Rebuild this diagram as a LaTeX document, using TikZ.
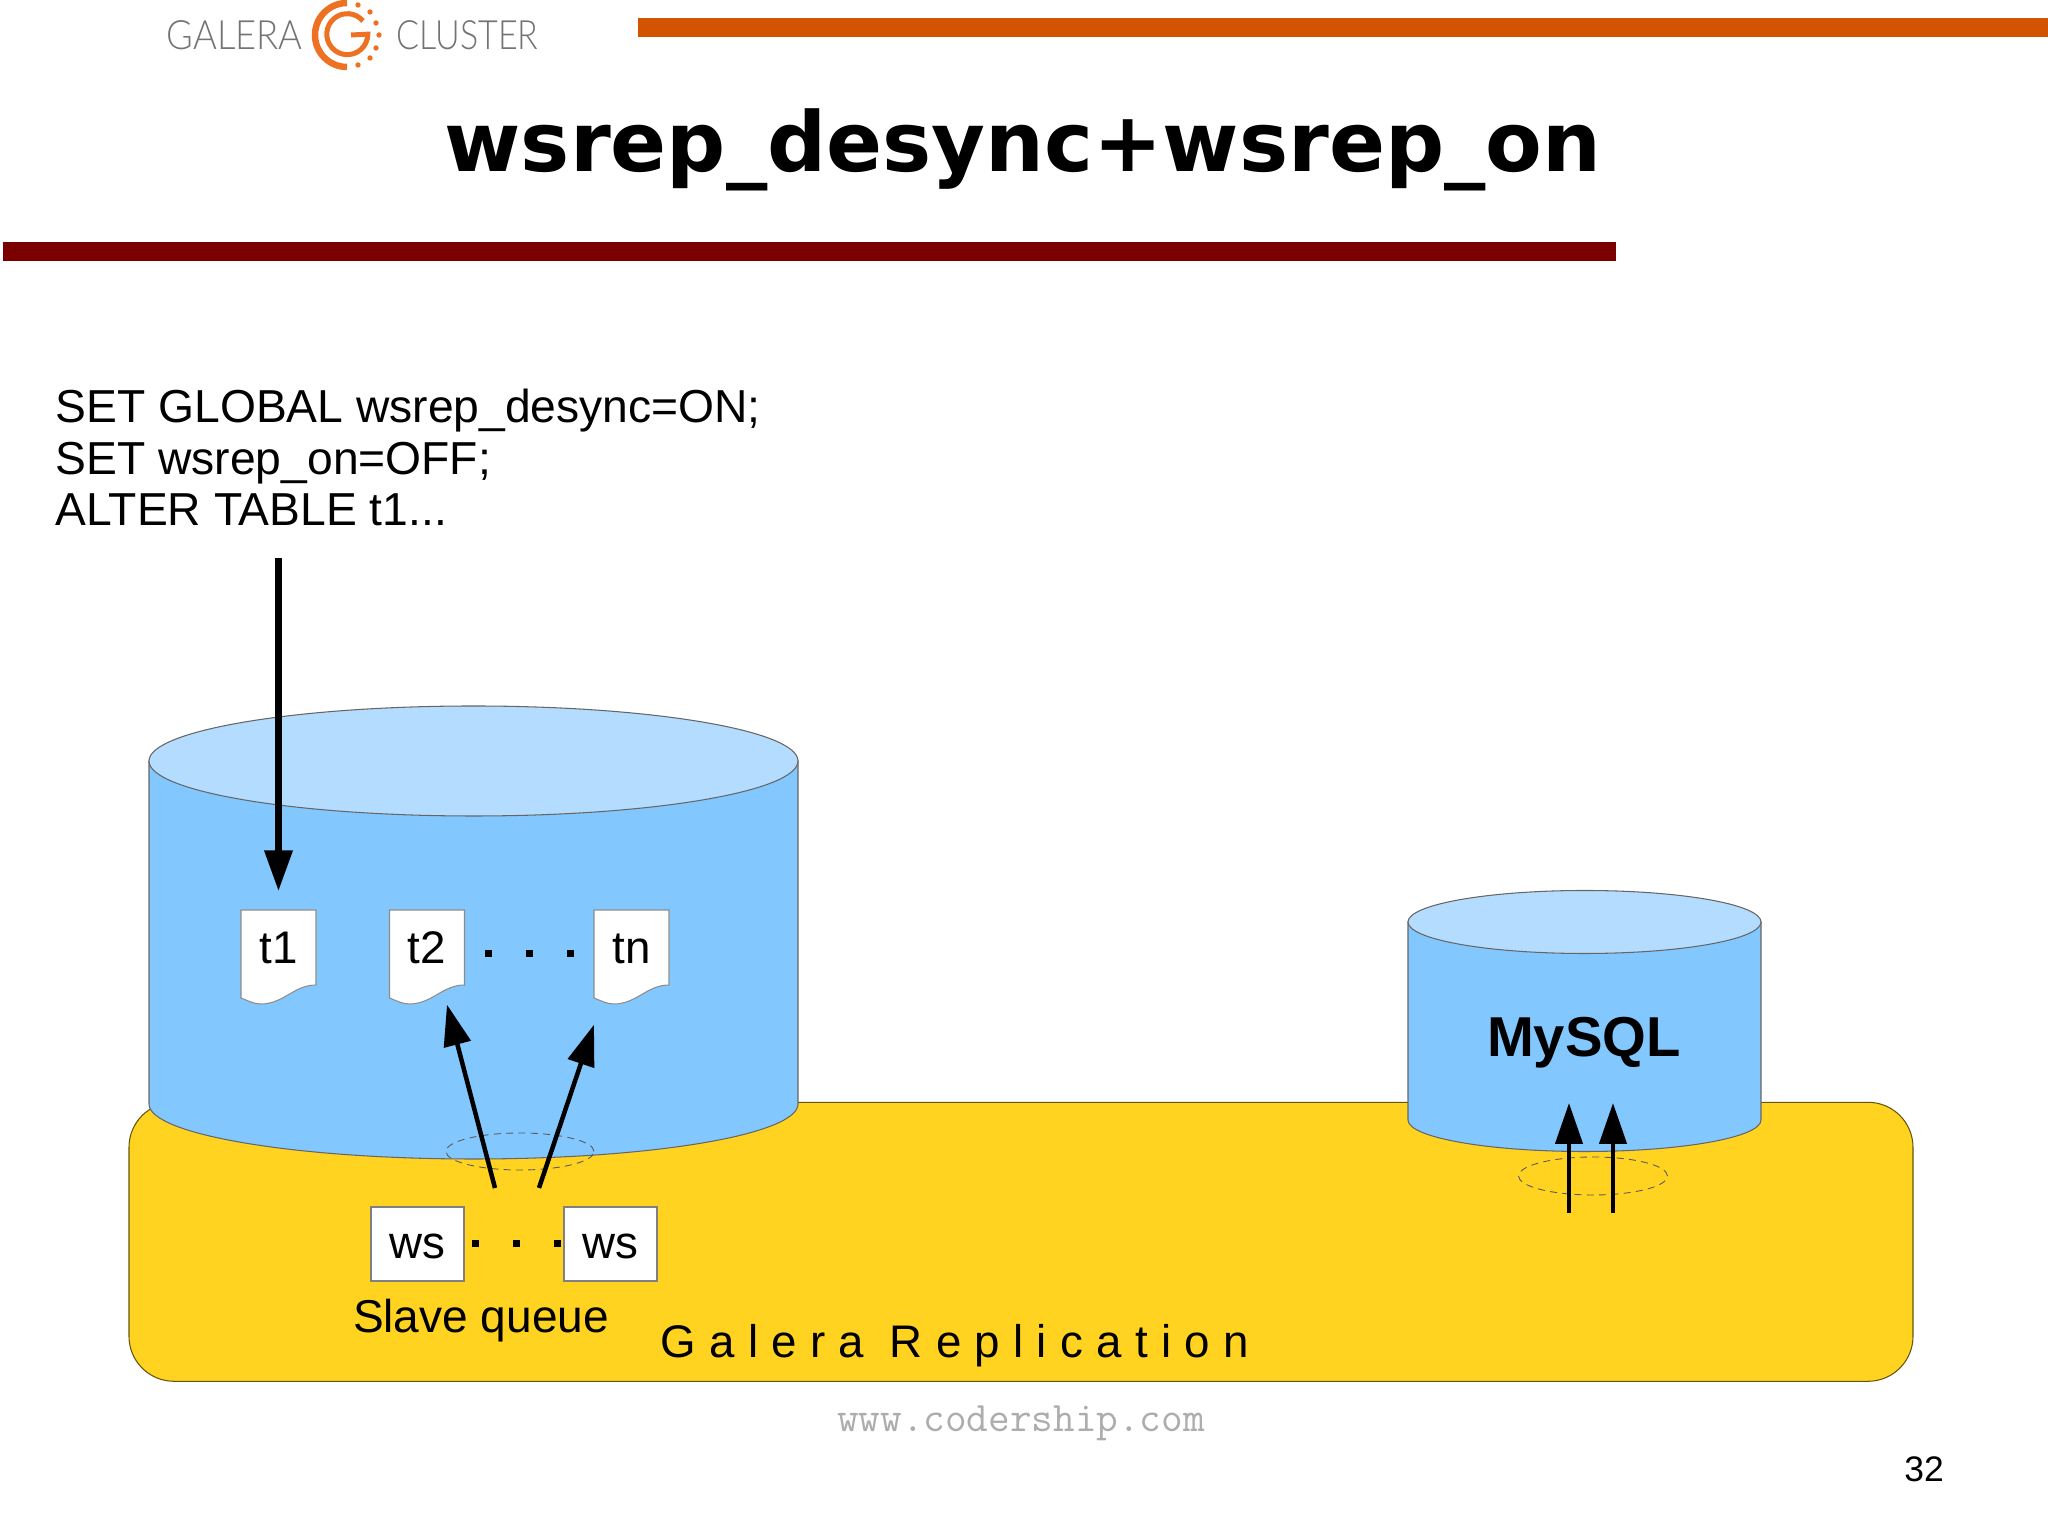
\documentclass[tikz,border=0pt]{standalone}
\usepackage{fontspec}
\setmainfont{Liberation Sans}
\setmonofont{Latin Modern Mono}
\newfontfamily\headfont{DejaVu Sans}
\newfontfamily\logofont[UprightFont=* Light]{Lato}
\usetikzlibrary{arrows.meta,shapes.geometric}

\definecolor{bandyellow}{HTML}{FFD320}
\definecolor{canbody}{HTML}{83C7FF}
\definecolor{cantop}{HTML}{B4DCFF}
\definecolor{barorange}{HTML}{D35400}
\definecolor{bardark}{HTML}{7B0000}
\definecolor{logoorange}{HTML}{EE7023}

% page with a wavy lower edge: name, base point, text
\newcommand{\tablepage}[3]{%
  \draw[pageline] (#2) ++(-.375,.54) -- ++(.75,0) -- ++(0,-.75)
    .. controls +(-.22,0) and +(.225,0) .. ++(-.55,-.19)
    .. controls +(-.07,0) and +(.075,-.03) .. ++(-.20,.06) -- cycle;
  \node at (#2) [pagetext] (#1) {#3};
}
% drum: centre x, top y, bottom y, x radius, y radius
\newcommand{\dbdrum}[5]{%
  \path[drumline,fill=canbody] (#1-#4,#2) -- (#1-#4,#3)
    arc[start angle=180,end angle=360,x radius=#4,y radius=#5] -- (#1+#4,#2) -- cycle;
  \path[drumline,fill=cantop] (#1,#2) ellipse[x radius=#4,y radius=#5];
}

\begin{document}
\begin{tikzpicture}[
    body/.style = {font=\fontsize{13}{15}\selectfont},
    pagetext/.style = {body,anchor=base,inner sep=0pt,minimum width=.75cm,text height=.54cm,text depth=.40cm},
    pageline/.style = {draw=black!45,line width=.3pt,fill=white},
    drumline/.style = {draw=black!60,line width=.3pt},
    wsbox/.style = {body,draw=black!50,line width=.3pt,fill=white,inner sep=0pt,minimum width=.93cm,minimum height=.74cm,text height=.29cm,text depth=0pt},
    square/.style = {fill=black,inner sep=0pt,minimum size=.07cm},
    thin arrow/.style = {-{Triangle[length=.41cm,width=.27cm]},line width=.045cm},
    thick arrow/.style = {-{Triangle[length=.41cm,width=.27cm]},line width=.07cm},
    probe/.style = {dashed,line width=.25pt,draw=black!65,dash pattern=on 2pt off 1.5pt}
]
    \useasboundingbox (0,0) rectangle (20.48,15.35);

    % Header
    \fill[barorange] (6.38,15.17) rectangle (20.48,14.98);
    \fill[bardark] (0.03,12.93) rectangle (16.16,12.74);
    \node at (10.23,13.63) [anchor=base,font=\headfont\bfseries\fontsize{23.52}{28}\selectfont] (title) {wsrep\_desync+wsrep\_on};

    % Logo
    \node at (1.66,14.85) [anchor=base west,inner sep=0pt,text=black!55,font=\logofont\fontsize{11.5}{14}\selectfont] (logoleft) {\scalebox{.9}[1]{GALERA}};
    \node at (3.96,14.85) [anchor=base west,inner sep=0pt,text=black!55,font=\logofont\fontsize{11.5}{14}\selectfont] (logoright) {\scalebox{.84}[1]{CLUSTER}};
    \draw[logoorange,line width=.065cm] (3.47,15.32) arc[start angle=90,end angle=270,radius=.32];
    \draw[logoorange,line width=.05cm] (3.63,15.14) arc[start angle=40,end angle=360,radius=.205] -- (3.51,15.0);
    \foreach \dotx/\doty in {3.58/15.30,3.70/15.23,3.76/15.12,3.79/15.00,3.76/14.87,3.70/14.77,3.58/14.70}
        \fill[logoorange] (\dotx,\doty) circle (.027);

    % Statement
    \node at (0.55,11.467) [anchor=north west,inner sep=0pt,align=left,font=\fontsize{13.15}{14.7}\selectfont] (setcmd)
        {SET GLOBAL wsrep\_desync=ON;\\SET wsrep\_on=OFF;\\ALTER TABLE t1...};

    % Replication band
    \node at (10.21,2.932) [draw=black!60!bandyellow,line width=.3pt,fill=bandyellow,rounded corners=.45cm,minimum width=17.84cm,minimum height=2.79cm] (galera) {};

    % Servers
    \dbdrum{4.735}{7.74}{4.31}{3.245}{.55}
    \dbdrum{15.845}{6.13}{4.15}{1.765}{.315}
    \node at (15.84,4.78) [anchor=base,font=\bfseries\fontsize{16}{19}\selectfont] (mysql) {MySQL};

    % Tables
    \tablepage{t1}{2.785,5.71}{t1}
    \tablepage{t2}{4.27,5.71}{t2}
    \tablepage{tn}{6.315,5.71}{tn}
    \node at (4.886,5.81) [square] (tdot1) {};
    \node at (5.29,5.81) [square] (tdot2) {};
    \node at (5.70,5.81) [square] (tdot3) {};

    % Slave queue
    \node at (4.175,2.91) [wsbox] (ws1) {ws};
    \node at (6.105,2.91) [wsbox] (ws2) {ws};
    \node at (4.75,2.91) [square] (qdot1) {};
    \node at (5.16,2.91) [square] (qdot2) {};
    \node at (5.57,2.91) [square] (qdot3) {};
    \node at (4.81,2.02) [anchor=base,inner sep=0pt,font=\fontsize{13.1}{15}\selectfont] (queue) {Slave queue};
    \node at (6.60,1.77) [anchor=base west,inner sep=0pt,font=\addfontfeature{LetterSpace=29}\fontsize{13}{15}\selectfont] (band) {Galera Replication};

    % Apply hooks
    \draw[probe] (5.20,3.835) ellipse[x radius=.74,y radius=.185];
    \draw[probe] (15.93,3.59) ellipse[x radius=.745,y radius=.19];

    % Arrows
    \coordinate (cmdout) at (2.785,9.77);
    \coordinate (wsout1) at (4.95,3.47);
    \coordinate (wsout2) at (5.39,3.47);
    \coordinate (sqlout1) at (15.69,3.22);
    \coordinate (sqlout2) at (16.13,3.22);
    \coordinate (sqltip1) at (15.69,4.32);
    \coordinate (sqltip2) at (16.13,4.32);
    \draw[thick arrow,shorten >=.18cm] (cmdout) -- (t1.north);
    \draw[thin arrow] (wsout1) -- ([xshift=.2cm]t2.south);
    \draw[thin arrow] (wsout2) -- ([xshift=-.375cm,yshift=-.2cm]tn.south);
    \draw[thin arrow] (sqlout1) -- (sqltip1);
    \draw[thin arrow] (sqlout2) -- (sqltip2);

    % Footer
    \node at (10.21,1.03) [anchor=base,text=black!32,font=\ttfamily\fontsize{11.95}{14}\selectfont] (site) {www.codership.com};
    \node at (19.24,0.53) [anchor=base,font=\fontsize{10.1}{12}\selectfont] (pageno) {32};
\end{tikzpicture}
\end{document}
